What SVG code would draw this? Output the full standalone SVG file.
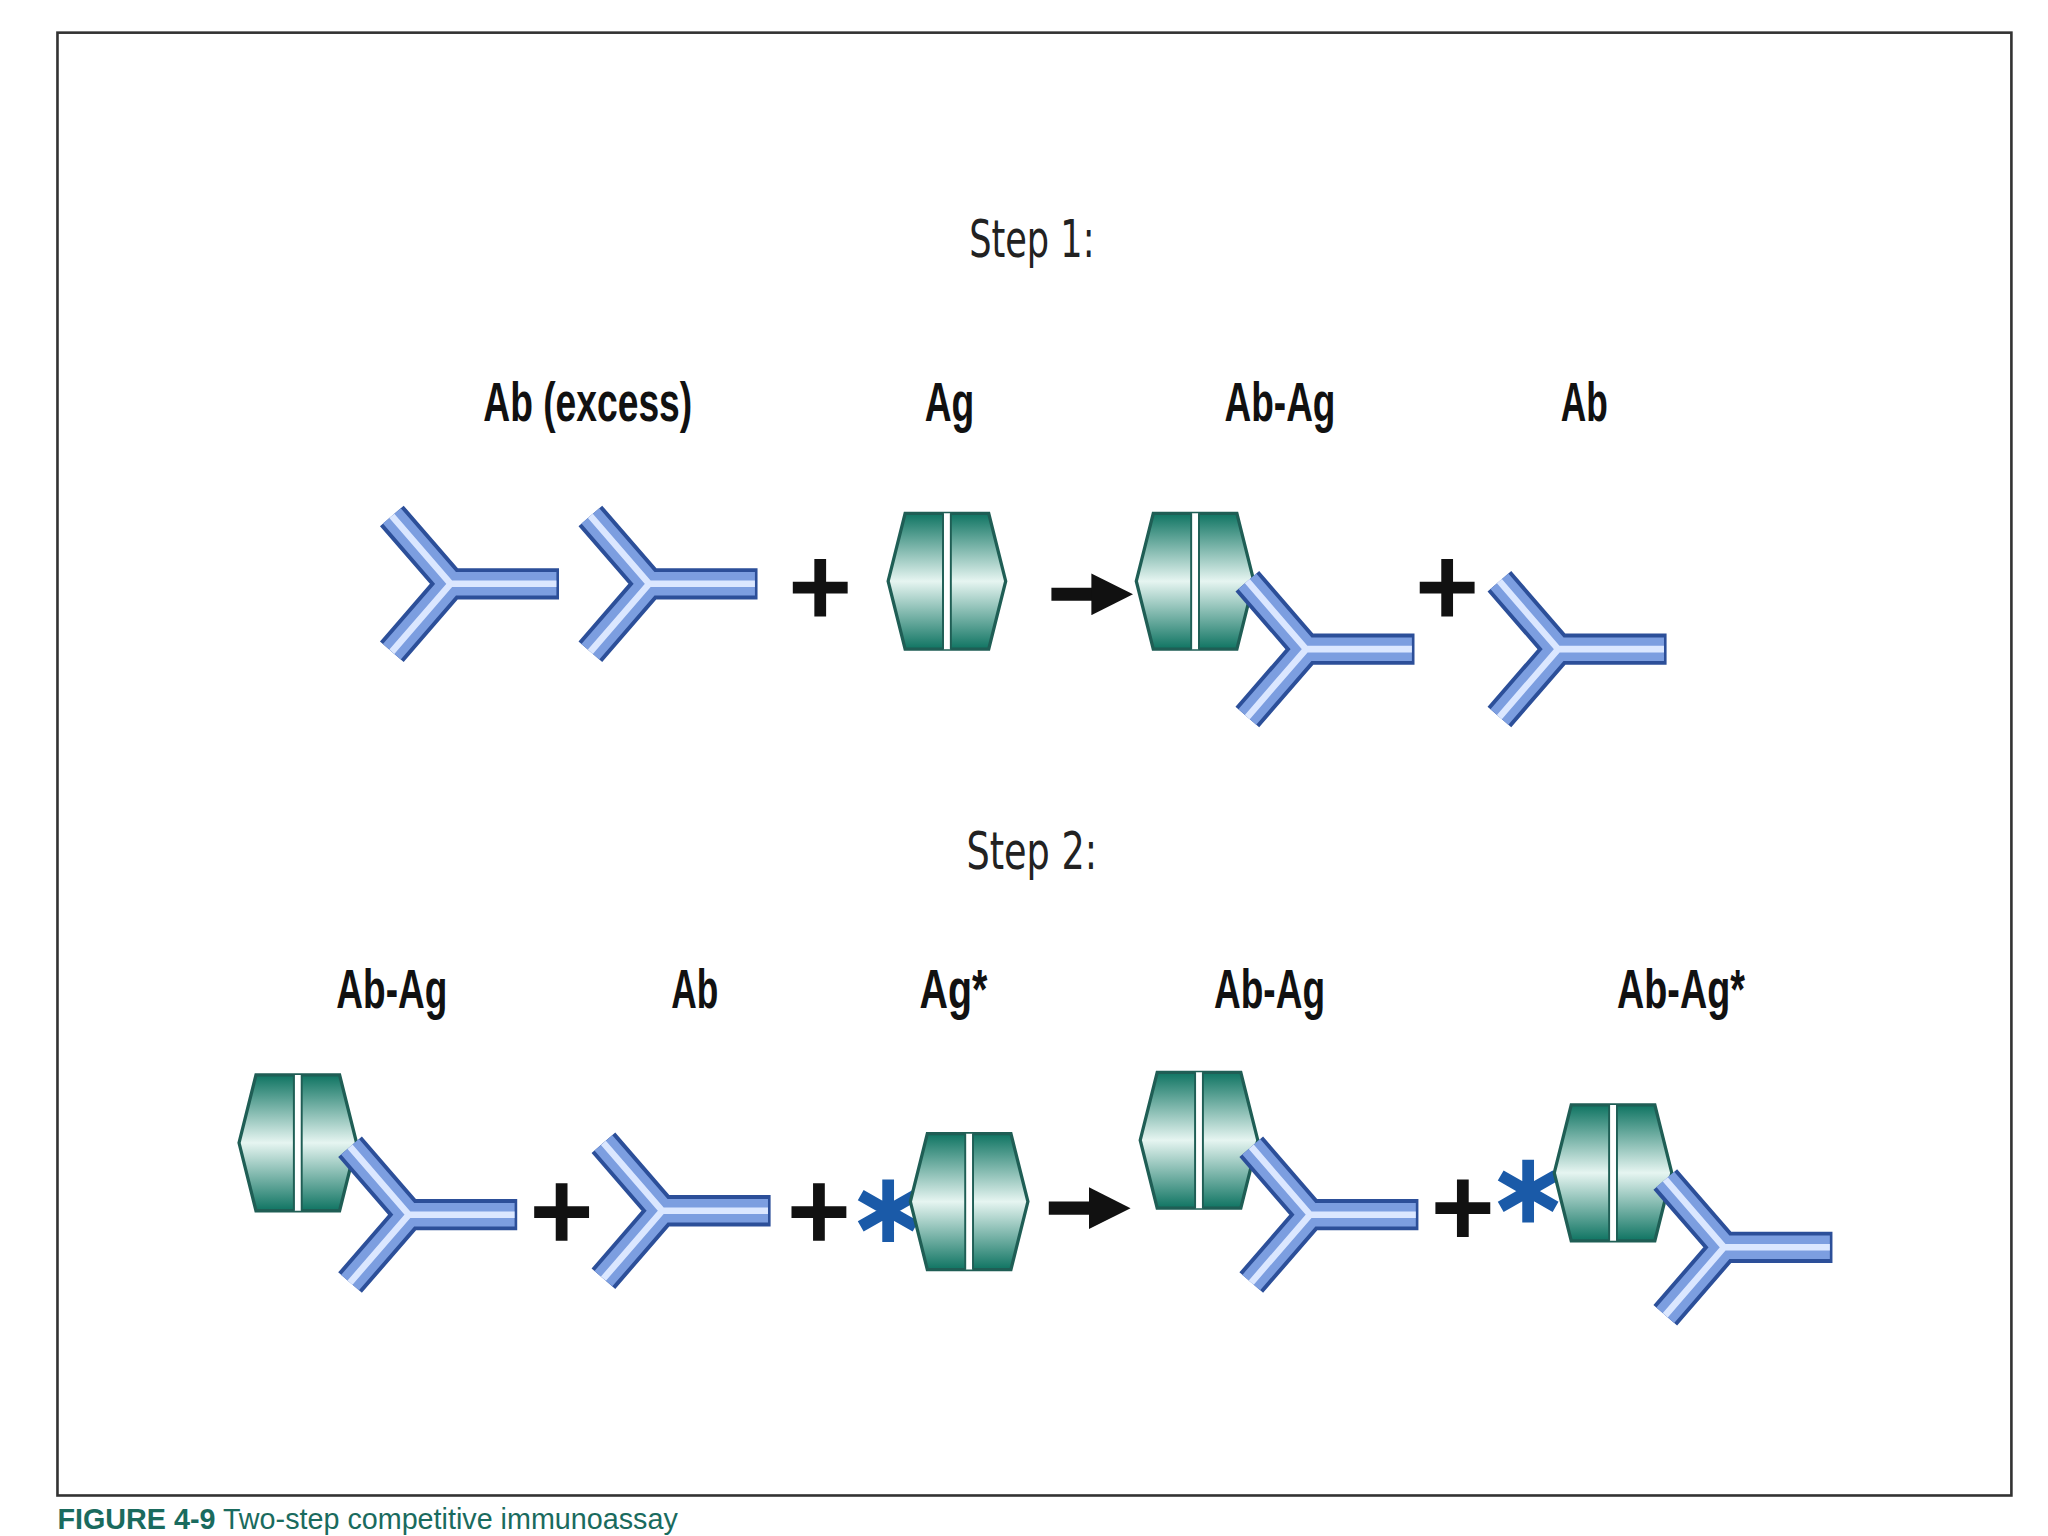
<svg xmlns="http://www.w3.org/2000/svg" xmlns:xlink="http://www.w3.org/1999/xlink" width="2048" height="1536" viewBox="0 0 2048 1536">
<defs>
<style>
.lbl{font-family:"Liberation Sans","DejaVu Sans",sans-serif;font-weight:bold;font-size:42px;fill:#111;text-anchor:middle}
.step{font-family:"DejaVu Sans","Liberation Sans",sans-serif;font-size:40px;fill:#222;text-anchor:middle}
.op{stroke:#111;stroke-width:9;fill:none}
</style>
<linearGradient id="tg" x1="0" y1="0" x2="0" y2="1">
<stop offset="0" stop-color="#0f7462"/><stop offset="0.5" stop-color="#e6f5f1"/><stop offset="1" stop-color="#0f7462"/>
</linearGradient>
<g id="ab">
<path d="M-45,-52 L0,0 L-45,52 M0,0 L83,0" fill="none" stroke="#2c4f99" stroke-width="24" stroke-linejoin="miter"/>
<path d="M-45,-52 L0,0 L-45,52 M0,0 L81,0" fill="none" stroke="#7c9ee0" stroke-width="18" stroke-linejoin="miter"/>
<path d="M-45,-52 L0,0 L-45,52 M0,0 L81,0" fill="none" stroke="#dbe7ff" stroke-width="5" stroke-linejoin="miter"/>
</g>
<g id="ag">
<polygon points="-45,0 -32,-52 32,-52 45,0 32,52 -32,52" fill="url(#tg)" stroke="#1f5e55" stroke-width="2.5"/>
<line x1="0" y1="-52" x2="0" y2="52" stroke="#fff" stroke-width="5"/>
<line x1="-3" y1="-52" x2="-3" y2="52" stroke="#1f5e55" stroke-width="1.5"/>
<line x1="3" y1="-52" x2="3" y2="52" stroke="#1f5e55" stroke-width="1.5"/>
</g>
<g id="plus"><path class="op" d="M-21,0 H21 M0,-22 V22"/></g>
<g id="star"><path d="M0,-24 V24 M-21,-12 L21,12 M-21,12 L21,-12" stroke="#1a5aa8" stroke-width="9" fill="none"/></g>
<marker id="ah" viewBox="0 0 10 10" refX="2" refY="5" markerWidth="3.2" markerHeight="3.2" orient="auto"><path d="M0,0 L10,5 L0,10 z" fill="#111"/></marker>
</defs>
<rect width="2048" height="1536" fill="#fff"/>
<g transform="scale(1.3061)">
<rect x="44" y="25" width="1496" height="1120" fill="none" stroke="#333" stroke-width="2"/>
<text class="step" x="790" y="197" textLength="96" lengthAdjust="spacingAndGlyphs">Step 1:</text>
<text class="step" x="790" y="665" textLength="100" lengthAdjust="spacingAndGlyphs">Step 2:</text>
<g id="labels">
<text class="lbl" x="450" y="322" textLength="160" lengthAdjust="spacingAndGlyphs">Ab (excess)</text>
<text class="lbl" x="727" y="322" textLength="38" lengthAdjust="spacingAndGlyphs">Ag</text>
<text class="lbl" x="980" y="322" textLength="85" lengthAdjust="spacingAndGlyphs">Ab-Ag</text>
<text class="lbl" x="1213" y="322" textLength="36" lengthAdjust="spacingAndGlyphs">Ab</text>
<text class="lbl" x="300" y="772" textLength="85" lengthAdjust="spacingAndGlyphs">Ab-Ag</text>
<text class="lbl" x="532" y="772" textLength="36" lengthAdjust="spacingAndGlyphs">Ab</text>
<text class="lbl" x="730" y="772" textLength="52" lengthAdjust="spacingAndGlyphs">Ag*</text>
<text class="lbl" x="972" y="772" textLength="85" lengthAdjust="spacingAndGlyphs">Ab-Ag</text>
<text class="lbl" x="1287" y="772" textLength="98" lengthAdjust="spacingAndGlyphs">Ab-Ag*</text>
</g>
<g id="row1-ab1"><use href="#ab" x="345" y="447"/></g>
<g id="row1-ab2"><use href="#ab" x="497" y="447"/></g>
<g id="row1-ag"><use href="#ag" x="725" y="445"/></g>
<g id="row1-abag"><use href="#ag" x="915" y="445"/><use href="#ab" x="1000" y="497"/></g>
<g id="row1-ab3"><use href="#ab" x="1193" y="497"/></g>
<g id="row2-abag1"><use href="#ag" x="228" y="875"/><use href="#ab" x="313" y="930"/></g>
<g id="row2-ab"><use href="#ab" x="507" y="927"/></g>
<g id="row2-agstar"><use href="#star" x="680" y="927"/><use href="#ag" x="742" y="920"/></g>
<g id="row2-abag2"><use href="#ag" x="918" y="873"/><use href="#ab" x="1003" y="930"/></g>
<g id="row2-abagstar"><use href="#star" x="1170" y="912"/><use href="#ag" x="1235" y="898"/><use href="#ab" x="1320" y="955"/></g>
<g id="operators">
<use href="#plus" x="628" y="450"/>
<use href="#plus" x="1108" y="450"/>
<use href="#plus" x="430" y="928"/>
<use href="#plus" x="627" y="928"/>
<use href="#plus" x="1120" y="925"/>
</g>
<g id="connectors">
<line x1="805" y1="455" x2="842" y2="455" stroke="#111" stroke-width="10" marker-end="url(#ah)"/>
<line x1="803" y1="925" x2="840" y2="925" stroke="#111" stroke-width="10" marker-end="url(#ah)"/>
</g>
<text x="44" y="1171" font-family="Liberation Sans, sans-serif" font-size="22" fill="#1a6b5e"><tspan font-weight="bold">FIGURE 4-9</tspan>  Two-step competitive immunoassay</text>
</g>
</svg>
